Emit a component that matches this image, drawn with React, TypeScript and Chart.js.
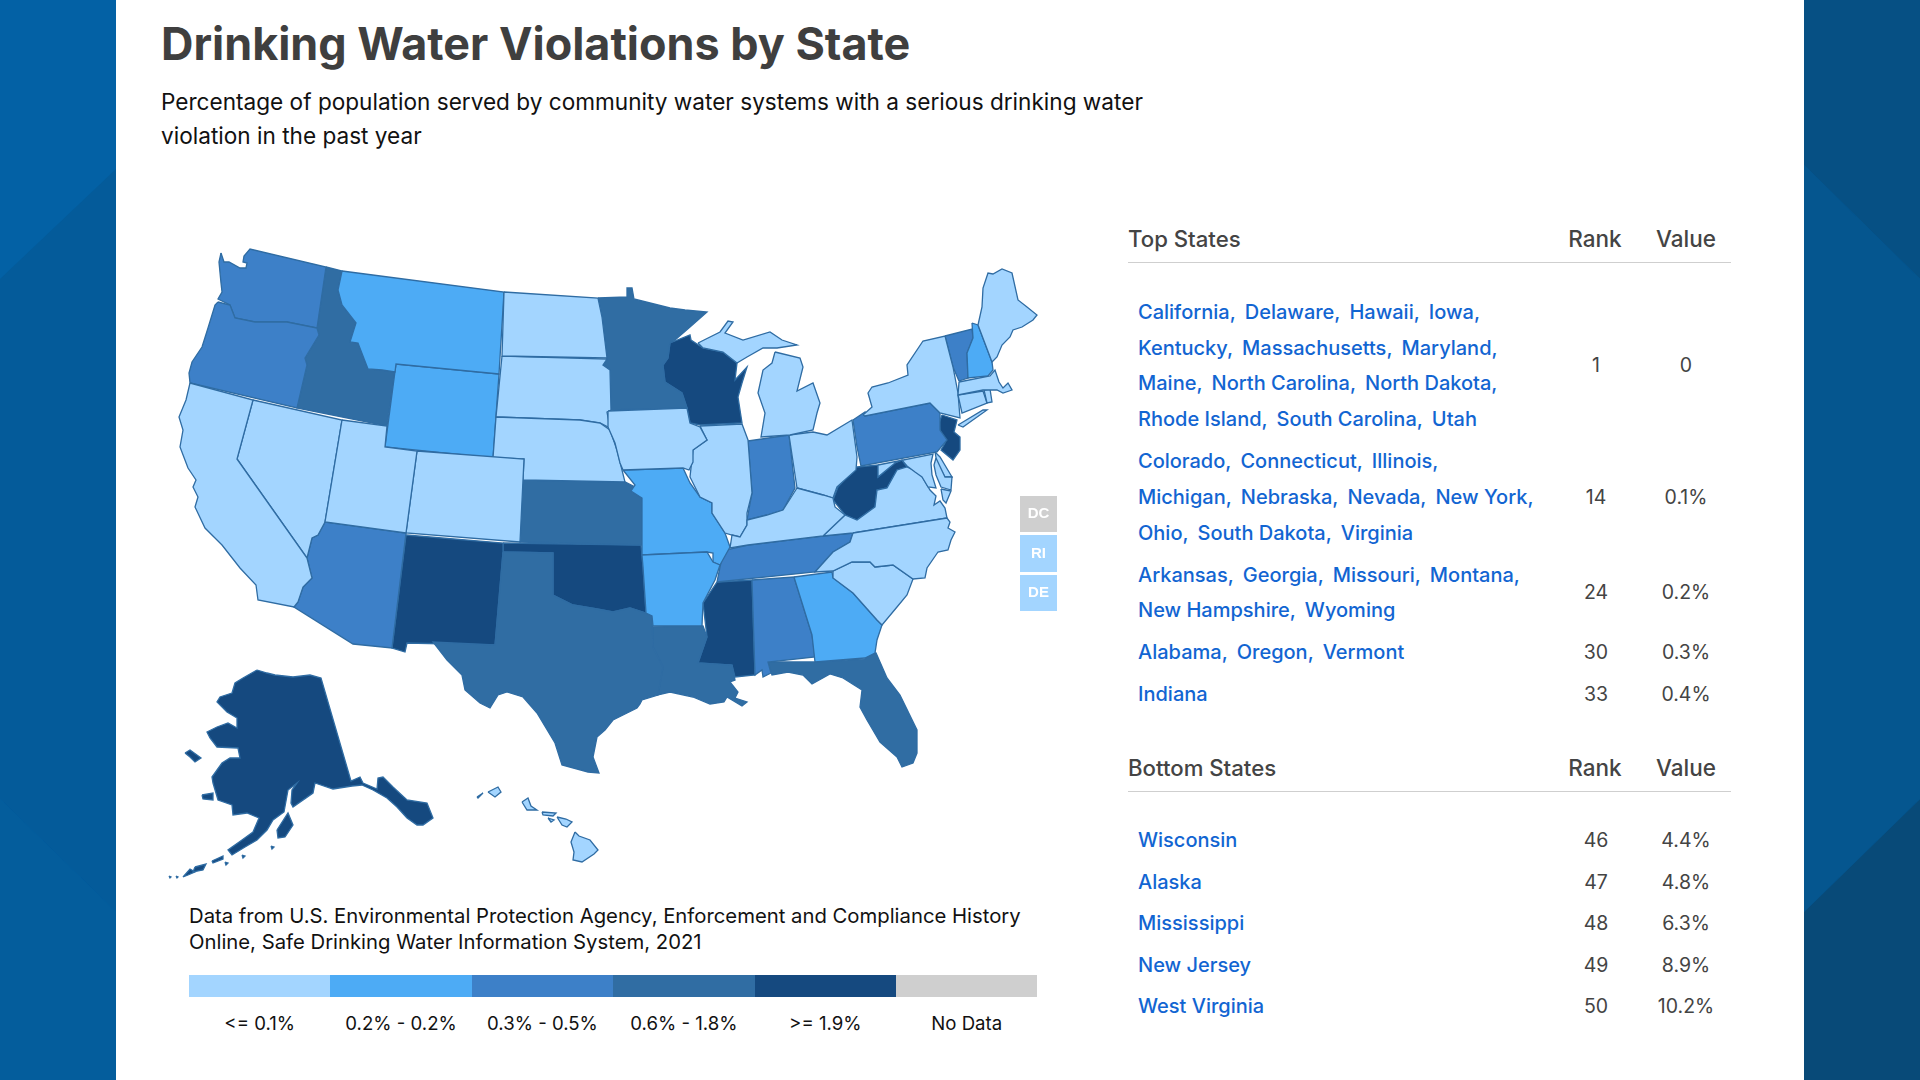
import React, { useEffect, useRef } from 'react';
import { Chart, registerables } from 'chart.js';

Chart.register(...registerables);

// state outlines, x,y pairs in map units
const WA = [221,253,224,262,229,262,240,268,246,268,247,263,243,262,244,256,250,249,326,267,317,328,287,322,255,322,235,318,230,305,218,299,222,292,221,283,219,262];
const WA_SOUND = [246,272,247,280,238,285,238,281];
const OR = [218,302,230,305,235,318,255,322,287,322,317,328,319,335,305,358,307,365,297,408,190,383,189,373,192,362,202,347,208,328,215,305];
const ID = [326,267,342,271,338,290,342,305,356,323,350,342,358,343,368,369,382,370,395,372,387,426,297,408,307,365,305,358,319,335,317,328];
const MT = [342,271,504,292,499,374,396,364,395,372,382,370,368,369,358,343,350,342,356,323,342,305,338,290];
const WY = [396,364,499,374,493,458,385,447];
const ND = [504,292,598,298,602,317,607,358,502,356];
const SD = [502,356,607,359,603,365,610,370,611,410,607,412,610,428,600,423,580,420,496,417];
const NE = [496,417,580,420,600,423,610,430,617,450,625,482,523,480,524,459,493,458];
const NV = [253,400,342,420,325,522,318,535,312,538,307,558,237,459];
const CA = [190,383,253,400,237,459,307,558,312,578,303,587,298,602,294,607,258,600,256,585,240,568,222,545,205,528,195,507,198,497,193,487,196,480,188,468,180,447,183,430,179,417,186,400];
const UT = [342,420,387,426,385,447,417,451,406,533,325,522];
const CO = [417,451,524,459,523,480,520,542,406,533];
const KS = [523,480,625,482,635,487,631,491,642,498,642,545,520,542];
const OK = [503,543,641,545,643,567,646,613,630,608,613,612,597,609,573,605,553,595,553,553,503,552];
const NM = [406,535,503,543,503,552,495,645,407,643,405,652,392,648];
const AZ = [325,522,406,533,392,648,353,644,294,607,298,602,303,587,312,578,307,558,312,538,318,535];
const TX = [503,552,553,553,553,595,573,605,597,609,613,612,630,608,646,613,652,616,653,647,663,667,658,695,642,700,640,704,637,708,613,720,605,730,597,737,593,757,599,773,588,772,562,765,555,743,537,713,523,697,507,692,498,695,490,708,480,703,465,690,462,675,447,660,433,642,495,645];
const LA = [653,627,703,626,707,637,698,663,732,665,735,680,730,682,738,692,735,698,747,702,742,706,727,697,724,702,710,704,693,697,670,692,658,695,663,667,653,647];
const AR = [642,555,707,552,713,562,720,565,715,580,703,603,702,626,653,626,652,616,646,613,643,567];
const MO = [623,470,683,468,690,483,700,497,712,503,712,513,725,533,730,547,720,565,713,562,713,553,707,552,642,555,642,498,631,491,635,485];
const IA = [608,411,687,408,690,423,700,427,707,440,693,450,693,462,689,470,683,468,623,470,620,463,615,443,608,427];
const MN = [598,298,627,297,627,288,632,288,634,299,650,303,670,308,685,310,707,312,690,327,675,340,670,343,668,358,663,365,665,382,682,393,687,408,610,410,610,370,603,365,607,358,602,317];
const WI = [670,343,690,335,691,340,703,348,723,352,737,363,735,380,747,367,742,383,738,397,742,423,700,425,690,423,687,408,682,393,665,382,663,365,668,358];
const MI_UP = [698,343,720,332,728,321,733,322,725,333,743,340,770,332,782,340,797,345,777,348,763,348,747,357,737,363,723,352,703,348];
const MI_LP = [775,352,800,358,803,367,797,391,813,383,820,403,817,413,813,430,790,435,761,437,765,413,758,393,763,370,772,363];
const IL = [700,426,742,424,748,440,752,493,747,513,747,525,740,537,732,535,725,533,712,513,712,503,700,497,690,477,693,450,707,440];
const IN = [748,441,789,435,795,488,783,510,767,515,747,520,752,493];
const OH = [789,435,813,432,827,435,852,420,857,457,856,470,837,487,833,498,823,495,797,488];
const KY = [797,488,823,495,833,498,835,507,845,515,823,536,748,545,730,548,732,535,740,537,747,525,747,520,767,515,783,510];
const TN = [853,533,850,542,833,552,815,572,717,582,723,552,730,549,748,545,823,536];
const MS = [717,582,752,580,755,675,735,677,732,665,698,663,707,637,703,603];
const AL = [752,580,794,577,812,635,815,657,768,662,771,673,763,677,762,670,755,675];
const GA = [794,577,832,572,833,578,853,593,877,620,882,625,877,640,875,653,865,658,815,662,812,635];
const FL = [768,662,815,662,865,659,867,653,876,653,887,678,900,695,917,730,917,753,913,763,902,767,897,757,880,742,867,720,860,707,862,690,843,678,830,674,812,684,803,675,788,672,772,675];
const SC = [833,571,852,562,870,562,875,567,893,565,913,579,907,595,897,607,882,625,877,620,853,593,833,578];
const NC = [853,533,947,518,950,522,948,528,955,532,951,540,948,550,938,552,927,568,925,578,913,579,893,565,875,567,870,562,852,562,833,571,815,572,833,552,850,542];
const VA = [823,536,845,515,857,520,875,507,877,490,887,488,897,470,907,467,920,473,930,490,936,496,934,505,940,501,945,508,947,518,853,533];
const VA_SHORE = [941,489,951,491,946,503,943,500];
const WV = [857,467,878,465,878,477,895,463,902,460,907,467,897,470,887,488,877,490,875,507,857,520,845,515,833,500,838,487,847,477];
const MD = [878,465,933,454,931,463,932,475,936,488,928,487,922,477,915,472,907,466,902,460,895,463,878,477];
const MD_SHORE = [936,458,945,477,952,477,951,490,941,487,936,475,934,465];
const DE = [935,452,940,457,952,477,945,477,937,463];
const PA = [853,420,865,412,865,416,930,403,940,413,940,430,947,440,937,452,861,466,857,447];
const NJ = [942,415,957,420,954,432,960,437,960,450,953,460,941,450,945,443,944,437,940,432,939,423];
const NY = [863,415,872,407,868,393,872,387,888,383,908,375,907,365,923,341,945,336,953,367,958,393,960,418,940,413,930,403,865,416];
const NY_LI = [958,425,983,410,987,410,963,427];
const VT = [945,336,972,329,973,338,967,353,968,378,959,381,953,367];
const NH = [972,323,978,325,992,362,993,370,988,376,968,378,967,353,973,338];
const ME = [978,325,982,307,983,288,988,273,993,274,1002,269,1012,273,1018,300,1027,307,1037,315,1033,320,1022,327,1013,330,1010,337,1002,345,997,357,992,362];
const MA = [959,382,990,376,995,370,999,382,1003,388,1008,383,1012,390,1003,393,997,390,983,390,958,395];
const CT = [958,395,983,391,987,403,962,413];
const RI = [984,390,990,389,992,402,987,403];
const AK = [257,670,267,673,275,675,293,677,310,675,321,678,351,781,360,777,363,783,377,789,378,778,383,777,393,787,407,800,427,803,433,818,423,825,417,825,407,818,397,807,387,798,373,790,362,785,352,786,333,789,315,783,313,793,293,807,291,803,292,790,297,783,288,790,284,812,273,820,267,830,257,840,245,847,232,855,228,850,242,840,253,832,259,818,247,813,233,815,232,805,218,800,213,783,212,777,222,763,230,758,240,758,238,748,217,747,210,738,207,732,217,727,228,723,237,728,237,718,227,712,217,702,220,697,232,693,235,683,243,678,250,674];
const AK_KODIAK = [277,830,288,813,293,825,285,837,278,838];
const AK_NUNIVAK = [202,795,213,793,213,800,203,799];
const AK_LAWRENCE = [185,753,190,750,201,758,195,762,190,757];
const AK_CHAIN1 = [212,861,223,856,223,859,213,863];
const AK_CHAIN2 = [195,867,206,864,203,870,193,872];
const AK_CHAIN3 = [183,877,190,869,195,872,188,875];
const AK_DOT1 = [225,862,228,863,226,865];
const AK_DOT2 = [242,855,245,856,243,858];
const AK_DOT3 = [271,846,274,847,272,849];
const AK_DOT4 = [169,876,171,877,170,878];
const AK_DOT5 = [176,876,178,877,177,878];
const HI_BIG = [575,832,579,836,590,840,598,850,594,854,582,862,573,860,574,852,571,842];
const HI_MAUI = [557,817,566,819,572,822,567,827,562,825];
const HI_MOLOKAI = [542,812,556,813,553,816,543,815];
const HI_LANAI = [548,818,554,820,551,822];
const HI_OAHU = [522,802,528,798,531,806,537,810,527,810];
const HI_KAUAI = [488,792,498,787,501,792,495,797];
const HI_NIIHAU = [477,797,483,793,478,798];
// small-state tiles next to the map
const TILE_DC = [1020,496,1057,496,1057,532,1020,532];
const TILE_RI = [1020,535,1057,535,1057,572,1020,572];
const TILE_DE = [1020,575,1057,575,1057,611,1020,611];

const tier0 = [CA, IA, KY, MA, MD, MD_SHORE, ME, NC, ND, RI, SC, UT, DE, HI_BIG, HI_MAUI, HI_MOLOKAI, HI_LANAI, HI_OAHU, HI_KAUAI, HI_NIIHAU, CO, CT, IL, MI_UP, MI_LP, NE, NV, NY, NY_LI, OH, SD, VA, VA_SHORE];
const tier1 = [AR, GA, MO, MT, NH, WY];
const tier2 = [AL, OR, VT, IN, WA, AZ, PA, TN];
const tier3 = [ID, KS, MN, TX, LA, FL];
const tier4 = [WI, AK, AK_KODIAK, AK_NUNIVAK, AK_LAWRENCE, AK_CHAIN1, AK_CHAIN2, AK_CHAIN3, AK_DOT1, AK_DOT2, AK_DOT3, AK_DOT4, AK_DOT5, MS, NJ, WV, NM, OK];
const tiers = [tier0, tier1, tier2, tier3, tier4];

const tierColors = ['#a3d5ff', '#4dabf5', '#3d80c8', '#306da3', '#15497f', '#cfcfcf'];
const legendLabels = ['<= 0.1%', '0.2% - 0.2%', '0.3% - 0.5%', '0.6% - 1.8%', '>= 1.9%', 'No Data'];

const tileLabels = ['DC', 'RI', 'DE'];
const tileRings = [TILE_DC, TILE_RI, TILE_DE];
const tileTiers = [5, 0, 0];

const topLines = [
  [['California', 'Delaware', 'Hawaii', 'Iowa'], ['Kentucky', 'Massachusetts', 'Maryland'], ['Maine', 'North Carolina', 'North Dakota'], ['Rhode Island', 'South Carolina', 'Utah']],
  [['Colorado', 'Connecticut', 'Illinois'], ['Michigan', 'Nebraska', 'Nevada', 'New York'], ['Ohio', 'South Dakota', 'Virginia']],
  [['Arkansas', 'Georgia', 'Missouri', 'Montana'], ['New Hampshire', 'Wyoming']],
  [['Alabama', 'Oregon', 'Vermont']],
  [['Indiana']],
];
const topRanks = ['1', '14', '24', '30', '33'];
const topValues = ['0', '0.1%', '0.2%', '0.3%', '0.4%'];

const bottomStates = ['Wisconsin', 'Alaska', 'Mississippi', 'New Jersey', 'West Virginia'];
const bottomRanks = ['46', '47', '48', '49', '50'];
const bottomValues = ['4.4%', '4.8%', '6.3%', '8.9%', '10.2%'];

const FONT = 'Inter, "Noto Sans", sans-serif';
const DARK = '#444444';
const LINK = '#1265d2';

const toPoints = (ring: number[]) => {
  const pts: { x: number; y: number }[] = [];
  for (let i = 0; i < ring.length; i += 2) pts.push({ x: ring[i], y: ring[i + 1] });
  pts.push({ x: ring[0], y: ring[1] });
  return pts;
};

const tileText = {
  id: 'tileText',
  afterDatasetsDraw(chart: any) {
    const { ctx, scales } = chart;
    ctx.save();
    ctx.fillStyle = '#ffffff';
    ctx.font = 'bold 15px "Liberation Sans", Arial, sans-serif';
    ctx.textAlign = 'center';
    ctx.textBaseline = 'middle';
    tileRings.forEach((ring, i) => {
      const x = scales.x.getPixelForValue((ring[0] + ring[2]) / 2);
      const y = scales.y.getPixelForValue((ring[1] + ring[5]) / 2);
      ctx.fillText(tileLabels[i], x, y);
    });
    ctx.restore();
  },
};

const MapChart: React.FC = () => {
  const ref = useRef<HTMLCanvasElement>(null);

  useEffect(() => {
    if (!ref.current) return;
    const line = (ring: number[], color: string, border: string) => ({
      data: toPoints(ring),
      showLine: true,
      fill: 'shape',
      tension: 0,
      pointRadius: 0,
      borderWidth: 1.3,
      borderColor: border,
      backgroundColor: color,
    });
    const datasets: any[] = [];
    tiers.forEach((rings, t) => rings.forEach((ring) => datasets.push(line(ring, tierColors[t], '#2f6ca3'))));
    // the notch in Puget Sound is painted over the state
    datasets.push(line(WA_SOUND, '#ffffff', '#2f6ca3'));
    tileRings.forEach((ring, i) => datasets.push(line(ring, tierColors[tileTiers[i]], 'rgba(0,0,0,0)')));

    const chart = new Chart(ref.current, {
      type: 'scatter',
      data: { datasets },
      options: {
        animation: false,
        responsive: false,
        devicePixelRatio: 1,
        layout: { padding: 0 },
        plugins: { legend: { display: false }, tooltip: { enabled: false } },
        scales: {
          x: { type: 'linear', display: false, min: 150, max: 1080 },
          y: { type: 'linear', display: false, min: 220, max: 900, reverse: true },
        },
      },
      plugins: [tileText],
    } as any);
    return () => chart.destroy();
  }, []);

  return <canvas ref={ref} width={930} height={680} style={{ position: 'absolute', left: 150, top: 220 }} />;
};

const App: React.FC = () => {
  useEffect(() => {
    document.body.style.margin = '0';
  }, []);

  const text = (left: number, top: number, size: number, extra: React.CSSProperties = {}) => ({
    position: 'absolute' as const,
    left,
    top,
    fontSize: size,
    whiteSpace: 'nowrap' as const,
    ...extra,
  });
  const cell = (center: number, y: number, value: string, key: string, header = false) => (
    <div key={key} style={{ position: 'absolute', left: center - 60, width: 120, top: y - 18, lineHeight: '36px', textAlign: 'center', fontSize: header ? 22.5 : 19.5, color: DARK, fontWeight: header ? 500 : 400 }}>
      {value}
    </div>
  );
  const stateLine = (names: string[], last: boolean) =>
    names.map((n, i) => (
      <span key={n} style={{ marginRight: 9 }}>
        {n}
        {i < names.length - 1 || !last ? ',' : ''}
      </span>
    ));
  const facet = (left: number, width: number, color: string, points: string, key: string) => (
    <div key={key} style={{ position: 'absolute', left, top: 0, width, height: 1080, background: color, clipPath: `polygon(${points})` }} />
  );

  let y = 292;
  const topRows = topLines.map((lines, r) => {
    const top = y + 3;
    const h = lines.length * 35.7 + 6.3;
    const mid = y + h / 2;
    y += h;
    return (
      <React.Fragment key={r}>
        {lines.map((names, l) => (
          <div key={l} style={text(1138, top + l * 35.7, 20, { lineHeight: '35.7px', color: LINK, fontWeight: 500 })}>
            {stateLine(names, l === lines.length - 1)}
          </div>
        ))}
        {cell(1596, mid - 1.2, topRanks[r], `r${r}`)}
        {cell(1686, mid - 1.2, topValues[r], `v${r}`)}
      </React.Fragment>
    );
  });

  return (
    <div style={{ position: 'relative', width: 1920, height: 1080, overflow: 'hidden', fontFamily: FONT, background: '#0361a5' }}>
      {facet(0, 116, '#045b9a', '0 279px, 116px 169px, 116px 912px, 0 799px', 'l1')}
      {facet(0, 116, '#045d9c', '0 799px, 116px 912px, 116px 1080px, 0 1080px', 'l2')}
      {facet(1804, 116, '#05568f', '0 165px, 116px 279px, 116px 799px, 0 912px', 'r1')}
      {facet(1804, 116, '#065084', '0 0, 116px 0, 116px 279px, 0 165px', 'r2')}
      {facet(1804, 116, '#084a78', '0 912px, 116px 799px, 116px 1080px, 0 1080px', 'r3')}
      <div style={{ position: 'absolute', left: 116, top: 0, width: 1688, height: 1080, background: '#ffffff' }} />

      <div style={text(161, 15, 44.9, { fontWeight: 700, color: '#3f3f3f', lineHeight: '58px' })}>Drinking Water Violations by State</div>
      <div style={text(161, 85, 22.6, { color: '#111111', lineHeight: '34px' })}>
        Percentage of population served by community water systems with a serious drinking water
      </div>
      <div style={text(161, 119, 22.6, { color: '#111111', lineHeight: '34px' })}>violation in the past year</div>

      <MapChart />

      <div style={text(189, 903, 20.3, { color: '#111111', lineHeight: '26px' })}>
        Data from U.S. Environmental Protection Agency, Enforcement and Compliance History
      </div>
      <div style={text(189, 929, 20.3, { color: '#111111', lineHeight: '26px' })}>
        Online, Safe Drinking Water Information System, 2021
      </div>
      {tierColors.map((c, i) => (
        <div key={c} style={{ position: 'absolute', left: 189 + i * 141.4, top: 974.5, width: 141.4, height: 22.5, background: c }} />
      ))}
      {legendLabels.map((l, i) => (
        <div key={l} style={{ position: 'absolute', left: 189 + i * 141.4, top: 1009.5, width: 141.4, textAlign: 'center', fontSize: 18.6, lineHeight: '26px', color: '#111111' }}>
          {l}
        </div>
      ))}

      <div style={text(1128, 224, 22.2, { color: DARK, fontWeight: 500, lineHeight: '30px' })}>Top States</div>
      {cell(1595, 239, 'Rank', 'h1', true)}
      {cell(1686, 239, 'Value', 'h2', true)}
      <div style={{ position: 'absolute', left: 1128, top: 262, width: 603, height: 1, background: '#cfcfcf' }} />
      {topRows}

      <div style={text(1128, 753, 22.2, { color: DARK, fontWeight: 500, lineHeight: '30px' })}>Bottom States</div>
      {cell(1595, 768, 'Rank', 'h3', true)}
      {cell(1686, 768, 'Value', 'h4', true)}
      <div style={{ position: 'absolute', left: 1128, top: 791, width: 603, height: 1, background: '#cfcfcf' }} />
      {bottomStates.map((s, i) => (
        <React.Fragment key={s}>
          <div style={text(1138, 840 + i * 41.6 - 18, 20, { lineHeight: '36px', color: LINK, fontWeight: 500 })}>{s}</div>
          {cell(1596, 840 + i * 41.6, bottomRanks[i], `br${i}`)}
          {cell(1686, 840 + i * 41.6, bottomValues[i], `bv${i}`)}
        </React.Fragment>
      ))}
    </div>
  );
};

export default App;
